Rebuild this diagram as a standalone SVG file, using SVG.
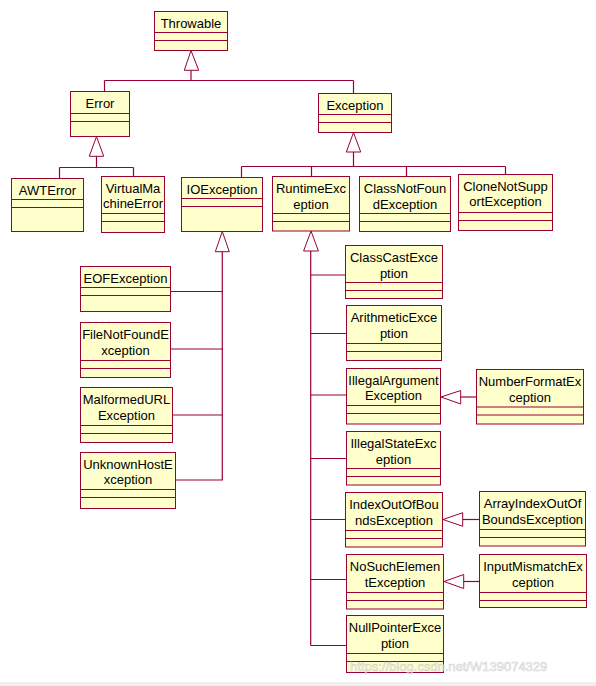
<svg xmlns="http://www.w3.org/2000/svg" width="596" height="686" viewBox="0 0 596 686">
<defs>
<style>
.box{fill:#ffffcc;stroke:#990033;stroke-width:1}
.div{stroke:#990033;stroke-width:1;fill:none}
.ln{stroke:#990033;stroke-width:1.2;fill:none}
.tri{fill:#ffffff;stroke:#990033;stroke-width:1}
text{font-family:"Liberation Sans",Arial,sans-serif;font-size:13px;fill:#000;text-anchor:middle}
.wm{font-size:13px;fill:#ffffff;stroke:#c8c8c8;stroke-width:0.6;text-anchor:start;opacity:0.8}
</style>
</defs>
<rect x="0" y="0" width="596" height="686" fill="#ffffff"/>
<rect x="0" y="682" width="596" height="4" fill="#f0f0f0"/>

<g id="connectors">
<polygon class="tri" points="191,50.5 184.3,70.3 198.7,70.3"/>
<path class="ln" d="M191,70.3V80.5M104.5,80.5H353.5M104.5,80.5V91.5M353.5,80.5V93.5"/>
<polygon class="tri" points="96.5,136.5 89.3,156.3 103.7,156.3"/>
<path class="ln" d="M96.5,156.3V167.5M59.5,167.5H133.5M59.5,167.5V178.5M133.5,167.5V176.5"/>
<polygon class="tri" points="353.5,132.5 346.3,152 360.7,152"/>
<path class="ln" d="M353.5,152V166.5M241.5,166.5H505.5M241.5,166.5V177.5M311.5,166.5V176.5M406.5,166.5V176.5M505.5,166.5V174.5"/>
<polygon class="tri" points="222.3,231.5 215.3,251.7 229.3,251.7"/>
<path class="ln" d="M222.3,251.7V480.5M170.5,291.5H222.3M170.5,349H222.3M172.5,415H222.3M175.5,480H222.3"/>
<polygon class="tri" points="311,231 303.6,251 318.4,251"/>
<path class="ln" d="M310.7,251V645.5M310.7,275H345.5M310.7,333.5H346.5M310.7,395H346.5M310.7,458.5H346.5M310.7,519.5H345.5M310.7,579.5H346.5M310.7,645.5H346.5"/>
<polygon class="tri" points="441,397 460.7,390.5 460.7,404"/>
<path class="ln" d="M460.7,397H476.5"/>
<polygon class="tri" points="443,519.5 462.7,512.7 462.7,526.3"/>
<path class="ln" d="M462.7,519.5H479.5"/>
<polygon class="tri" points="444,581.5 463.7,574.5 463.7,588.5"/>
<path class="ln" d="M463.7,581.5H479.5"/>
</g>

<g id="Throwable"><rect class="box" x="154.5" y="11.5" width="73" height="39"/><path class="div" d="M154.5,32.5H227.5M154.5,40.5H227.5"/><text x="191" y="28">Throwable</text></g>
<g id="Error"><rect class="box" x="70.5" y="91.5" width="59" height="45"/><path class="div" d="M70.5,113.5H129.5M70.5,121.5H129.5"/><text x="100" y="107.6">Error</text></g>
<g id="Exception"><rect class="box" x="318.5" y="93.5" width="73" height="39"/><path class="div" d="M318.5,114.5H391.5M318.5,122.5H391.5"/><text x="355" y="109.6">Exception</text></g>
<g id="AWTError"><rect class="box" x="11.5" y="178.5" width="72" height="53"/><path class="div" d="M11.5,199.5H83.5M11.5,207.5H83.5"/><text x="47.5" y="195">AWTError</text></g>
<g id="VirtualMachineError"><rect class="box" x="101.5" y="176.5" width="63" height="56"/><path class="div" d="M101.5,213.5H164.5M101.5,221.5H164.5"/><text x="133" y="193">VirtualMa</text><text x="133" y="208.3">chineError</text></g>
<g id="IOException"><rect class="box" x="181.5" y="177.5" width="81" height="54"/><path class="div" d="M181.5,198.5H262.5M181.5,206.5H262.5"/><text x="222" y="193.6">IOException</text></g>
<g id="RuntimeException"><rect class="box" x="272.5" y="176.5" width="77" height="54.5"/><path class="div" d="M272.5,213.5H349.5M272.5,221.5H349.5"/><text x="311" y="193">RuntimeExc</text><text x="311" y="209">eption</text></g>
<g id="ClassNotFoundException"><rect class="box" x="359.5" y="176.5" width="91" height="55"/><path class="div" d="M359.5,213.5H450.5M359.5,221.5H450.5"/><text x="405" y="193">ClassNotFoun</text><text x="405" y="209">dException</text></g>
<g id="CloneNotSupportedException"><rect class="box" x="458.5" y="174.5" width="94" height="56"/><path class="div" d="M458.5,212.5H552.5M458.5,220.5H552.5"/><text x="505.5" y="190.6">CloneNotSupp</text><text x="505.5" y="206.3">ortException</text></g>
<g id="EOFException"><rect class="box" x="80.5" y="266.5" width="90" height="45"/><path class="div" d="M80.5,287.5H170.5M80.5,295.5H170.5"/><text x="125.5" y="283">EOFException</text></g>
<g id="FileNotFoundException"><rect class="box" x="80.5" y="322.5" width="90" height="55"/><path class="div" d="M80.5,360.5H170.5M80.5,368.5H170.5"/><text x="125.5" y="339">FileNotFoundE</text><text x="125.5" y="354.6">xception</text></g>
<g id="MalformedURLException"><rect class="box" x="80.5" y="387.5" width="92" height="55"/><path class="div" d="M80.5,425.5H172.5M80.5,433.5H172.5"/><text x="126.5" y="404">MalformedURL</text><text x="126.5" y="419.6">Exception</text></g>
<g id="UnknownHostException"><rect class="box" x="80.5" y="452.5" width="95" height="56"/><path class="div" d="M80.5,489.5H175.5M80.5,497.5H175.5"/><text x="128" y="468.6">UnknownHostE</text><text x="128" y="484">xception</text></g>
<g id="ClassCastException"><rect class="box" x="345.5" y="245.5" width="97" height="53"/><path class="div" d="M345.5,282.5H442.5M345.5,290.5H442.5"/><text x="394" y="261.6">ClassCastExce</text><text x="394" y="278">ption</text></g>
<g id="ArithmeticException"><rect class="box" x="346.5" y="305.5" width="95" height="55"/><path class="div" d="M346.5,343.5H441.5M346.5,351.5H441.5"/><text x="394" y="322">ArithmeticExce</text><text x="394" y="338">ption</text></g>
<g id="IllegalArgumentException"><rect class="box" x="346.5" y="368.5" width="94" height="55.5"/><path class="div" d="M346.5,405.5H440.5M346.5,413.5H440.5"/><text x="393.5" y="385">IllegalArgument</text><text x="393.5" y="400.3">Exception</text></g>
<g id="NumberFormatException"><rect class="box" x="476.5" y="369.5" width="107" height="54.5"/><path class="div" d="M476.5,407H583.5M476.5,415H583.5"/><text x="530" y="386">NumberFormatEx</text><text x="530" y="401.6">ception</text></g>
<g id="IllegalStateException"><rect class="box" x="346.5" y="431.5" width="94" height="53.5"/><path class="div" d="M346.5,468.5H440.5M346.5,476.5H440.5"/><text x="393.5" y="447.6">IllegalStateExc</text><text x="393.5" y="463.6">eption</text></g>
<g id="IndexOutOfBoundsException"><rect class="box" x="345.5" y="492.5" width="97" height="54.5"/><path class="div" d="M345.5,530.5H442.5M345.5,538.5H442.5"/><text x="394" y="508.6">IndexOutOfBou</text><text x="394" y="524.6">ndsException</text></g>
<g id="ArrayIndexOutOfBoundsException"><rect class="box" x="479.5" y="491.5" width="106" height="54.5"/><path class="div" d="M479.5,529.5H585.5M479.5,537.5H585.5"/><text x="532.5" y="507.6">ArrayIndexOutOf</text><text x="532.5" y="523.6">BoundsException</text></g>
<g id="NoSuchElementException"><rect class="box" x="346.5" y="554.5" width="97" height="54.5"/><path class="div" d="M346.5,592.5H443.5M346.5,600.5H443.5"/><text x="395" y="570.6">NoSuchElemen</text><text x="395" y="586.6">tException</text></g>
<g id="InputMismatchException"><rect class="box" x="479.5" y="554.5" width="107" height="53"/><path class="div" d="M479.5,592.5H586.5M479.5,600.5H586.5"/><text x="533" y="570.6">InputMismatchEx</text><text x="533" y="586.6">ception</text></g>
<g id="NullPointerException"><rect class="box" x="346.5" y="615.5" width="97" height="57"/><path class="div" d="M346.5,653.5H443.5M346.5,661.5H443.5"/><text x="395" y="631.6">NullPointerExce</text><text x="395" y="647.6">ption</text></g>

<text class="wm" x="350" y="671">https://blog.csdn.net/W139074329</text>
</svg>
